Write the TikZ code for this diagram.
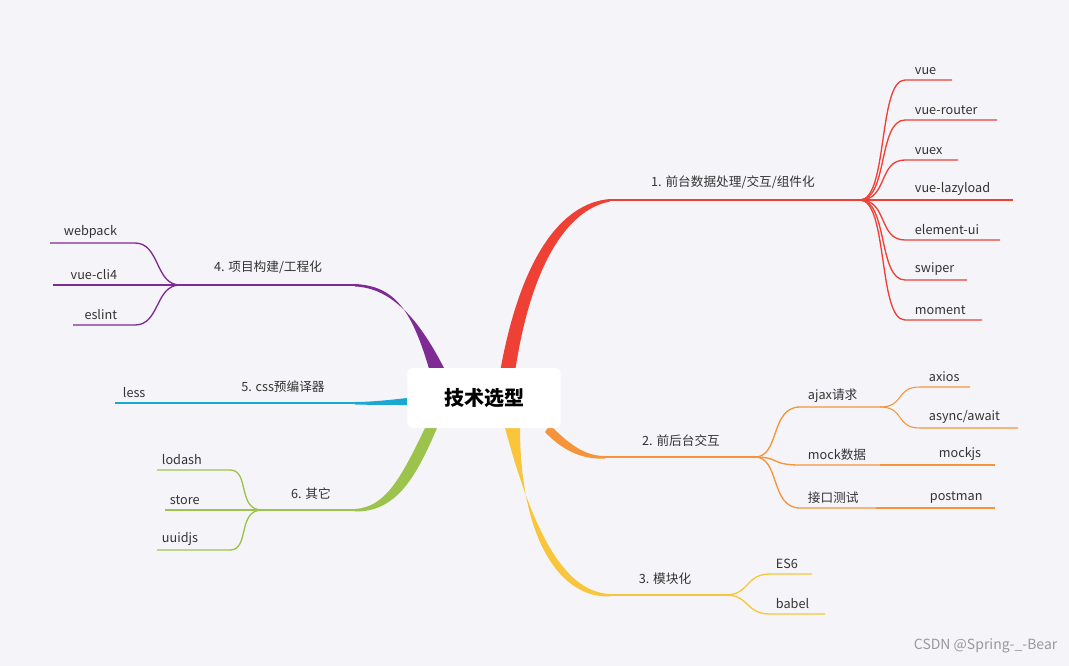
\documentclass[tikz,border=0pt]{standalone}
\usepackage{fontspec}
\setmainfont{Noto Sans CJK SC}
\definecolor{bg}{HTML}{F5F5F9}
\definecolor{cR}{HTML}{EE4035}
\definecolor{cO}{HTML}{F5943A}
\definecolor{cY}{HTML}{F9C53A}
\definecolor{cP}{HTML}{7E2B93}
\definecolor{cB}{HTML}{19A8D3}
\definecolor{cG}{HTML}{9CC34B}
\definecolor{tx}{HTML}{333333}
\begin{document}
\begin{tikzpicture}[x=0.75pt,y=-0.75pt,
  lbl/.style={text=tx,font=\fontsize{9.5}{12}\selectfont,inner sep=2pt},
  lbr/.style={lbl,anchor=south},
  leaf/.style={lbl,anchor=south west},
  leafr/.style={lbl,anchor=south east},
  ln/.style={line width=1.2pt}]
\fill[bg] (0,0) rectangle (1069,666);
\useasboundingbox (0,0) rectangle (1069,666);
% trunks
\fill[cR] (500,372) .. controls (520,260) and (560,203) .. (610,199) -- (610,201.5) .. controls (565,210) and (530,270) .. (515,372) -- cycle;
\fill[cO] (550,425) .. controls (570,445) and (585,456) .. (605,456) -- (605,458.5) .. controls (580,460) and (560,448) .. (545,432) -- cycle;
\fill[cY] (505,428) .. controls (530,520) and (560,592) .. (610,594) -- (610,596.5) .. controls (555,598) and (520,530) .. (520,428) -- cycle;
\fill[cP] (430,372) .. controls (412,310) and (395,286) .. (355,284) -- (355,286.5) .. controls (392,288) and (420,320) .. (446,372) -- cycle;
\fill[cB] (407,398) .. controls (390,400) and (370,402) .. (355,402) -- (355,404.5) .. controls (375,405) and (390,405) .. (407,405) -- cycle;
\fill[cG] (425,428) .. controls (400,480) and (385,507) .. (355,509) -- (355,511.5) .. controls (395,512) and (415,480) .. (437,428) -- cycle;
% center
\node[fill=white,rounded corners=4pt,minimum width=115pt,minimum height=45pt,
  font=\fontsize{15}{18}\selectfont\bfseries,text=black] (root) at (484,398) {技术选型};
% branch 1
\coordinate (h1) at (860,200);
\draw[cR,ln] (610,200) -- (h1);
\node[lbr] (b1) at (733,192) {1. 前台数据处理/交互/组件化};
\foreach \y/\e/\t in {80/952/vue,120/997/vue-router,160/958/vuex,200/1013/vue-lazyload,240/1000/element-ui,280/967/swiper,320/982/moment}{
  \draw[cR,line width=1pt] (h1) .. controls (888,200) and (878,\y) .. (905,\y) -- (\e,\y);
  \node[leaf] at (912,\y-2) {\t};}
% branch 2
\coordinate (h2) at (755,457);
\draw[cO,ln] (605,457) -- (h2);
\node[lbr] (b2) at (681,449) {2. 前后台交互};
\foreach \y/\e/\t in {407/880/ajax请求,465/880/mock数据,508/876/接口测试}{
  \draw[cO,line width=1pt] (h2) .. controls (780,457) and (770,\y) .. (800,\y) -- (\e,\y);
  \node[leaf] at (805,\y-2) {\t};}
\coordinate (h21) at (880,407);
\foreach \y/\e/\t in {387/970/{axios},428/1018/{async/await}}{
  \draw[cO,line width=0.8pt] (h21) .. controls (905,407) and (895,\y) .. (920,\y) -- (\e,\y);
  \node[leaf] at (926,\y-2) {\t};}
\draw[cO,line width=0.8pt] (880,465) -- (995,465);
\node[leaf] at (936,463) {mockjs};
\draw[cO,line width=0.8pt] (876,508) -- (995,508);
\node[leaf] at (927,506) {postman};
% branch 3
\coordinate (h3) at (725,595);
\draw[cY,ln] (610,595) -- (h3);
\node[lbr] (b3) at (665,587) {3. 模块化};
\foreach \y/\e/\t in {574/812/ES6,614/825/babel}{
  \draw[cY,line width=1pt] (h3) .. controls (750,595) and (745,\y) .. (770,\y) -- (\e,\y);
  \node[leaf] at (773,\y-2) {\t};}
% branch 4
\coordinate (h4) at (180,285);
\draw[cP,ln] (355,285) -- (h4);
\node[lbr] (b4) at (268,277) {4. 项目构建/工程化};
\foreach \y/\s/\t in {243/50/webpack,285/53/vue-cli4,325/73/eslint}{
  \draw[cP,line width=1pt] (h4) .. controls (155,285) and (160,\y) .. (135,\y) -- (\s,\y);
  \node[leafr] at (120,\y-2) {\t};}
% branch 5
\draw[cB,ln] (355,403) -- (115,403);
\node[lbr] (b5) at (283,395) {5. css预编译器};
\node[leaf] at (120,401) {less};
% branch 6
\coordinate (h6) at (262,510);
\draw[cG,ln] (355,510) -- (h6);
\node[lbr] (b6) at (311,502) {6. 其它};
\foreach \y/\s/\t in {470/157/lodash,510/165/store,550/157/uuidjs}{
  \draw[cG,line width=1pt] (h6) .. controls (237,510) and (250,\y) .. (230,\y) -- (\s,\y);
  \node[leaf] at (\s+2,\y-2) {\t};}
\node[text=gray!80,font=\fontsize{10.5}{13}\selectfont,anchor=east] at (1062,646) {CSDN @Spring-\_-Bear};
\end{tikzpicture}
\end{document}
